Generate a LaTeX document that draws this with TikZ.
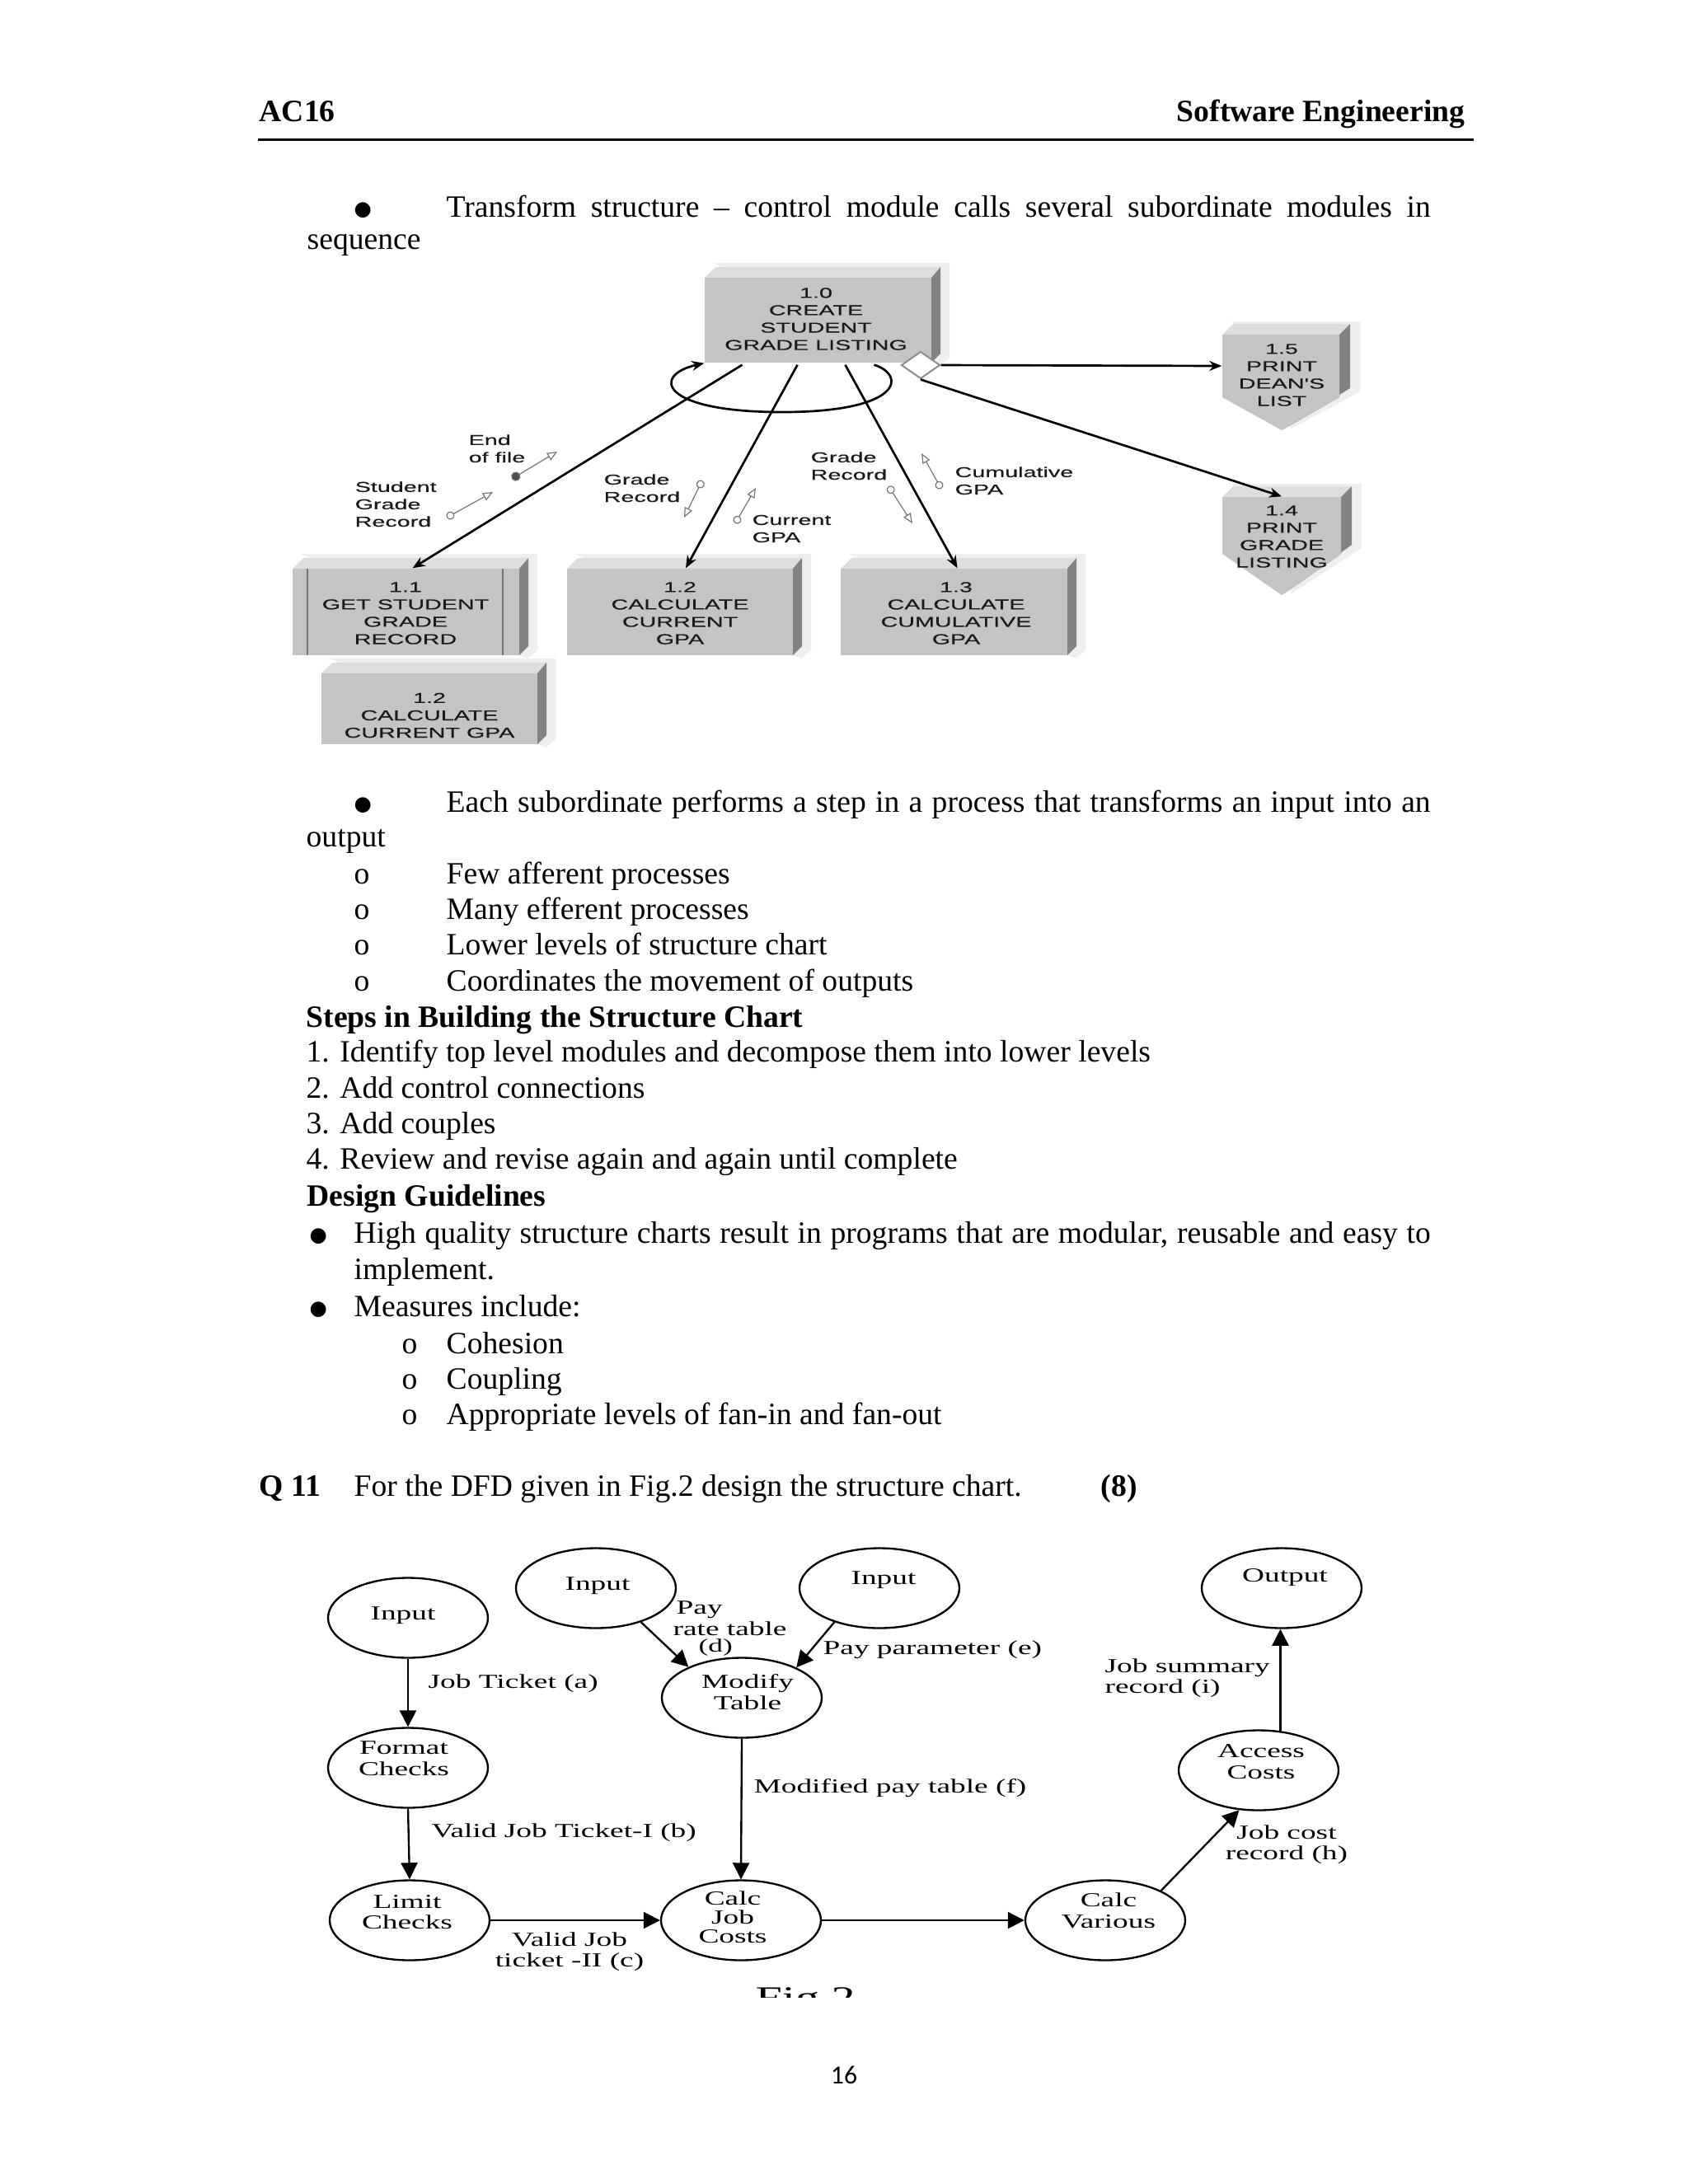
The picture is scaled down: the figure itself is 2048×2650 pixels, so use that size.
\documentclass[tikz,border=0pt]{standalone}
\usepackage{fontspec}
\setmainfont{Liberation Serif}
\newfontfamily\figfont{Liberation Sans}[FakeStretch=1.65,FakeBold=0.3]
\newfontfamily\dfdfont{Liberation Serif}[FakeStretch=1.55]
\newfontfamily\pnfont{Carlito}
\newfontfamily\symfont{DejaVu Sans}
\usetikzlibrary{arrows.meta,shapes.geometric}
\definecolor{frontc}{RGB}{196,196,196}
\definecolor{sidec}{RGB}{130,130,130}
\definecolor{topc}{RGB}{222,222,222}
\definecolor{halo}{RGB}{238,238,238}
\newcommand\bigbul{\raisebox{0.6pt}{\symfont\fontsize{7.3}{7.3}\selectfont ●}}
% 3D module box: #1 name, #2 x1, #3 y1, #4 x2, #5 y2
\newcommand\modbox[5]{%
  \fill[halo] (#2+10,#3-18) -- (#4+22,#3-18) -- (#4+22,#5-6) -- (#4+10,#5+4) -- cycle;
  \fill[topc] (#2,#3) -- (#2+13,#3-13) -- (#4+11,#3-13) -- (#4,#3) -- cycle;
  \fill[sidec] (#4,#3) -- (#4+11,#3-13) -- (#4+11,#5-11) -- (#4,#5) -- cycle;
  \node[fill=frontc, inner sep=0, minimum width={(#4-#2)*0.2989pt}, minimum height={(#5-#3)*0.2989pt}] (#1) at ({(#2+#4)/2},{(#3+#5)/2}) {};
}
\begin{document}
\begin{tikzpicture}[x=0.2989pt,y=-0.2989pt,
  body/.style={anchor=base west, inner sep=0, font=\fontsize{11.25}{12.85}\selectfont},
  bodyb/.style={anchor=base west, inner sep=0, font=\fontsize{11.25}{12.85}\selectfont\bfseries},
  ftxt/.style={inner sep=0, align=center, text=black!90, font=\figfont\fontsize{5.2}{6.3}\selectfont},
  flab/.style={inner sep=0, align=left, anchor=base west, text=black!90, font=\figfont\fontsize{5.2}{6.3}\selectfont},
  call/.style={line width=0.8pt, -{Stealth[length=4.5pt,width=3.6pt]}},
  couple/.style={line width=0.35pt, draw=black!55, {Circle[open,length=3pt,width=3pt]}-{Triangle[open,length=3.6pt,width=3pt]}},
  flag/.style={line width=0.35pt, draw=black!55, {Circle[length=3.4pt,width=3.4pt,fill=black!70]}-{Triangle[open,length=3.6pt,width=3pt]}},
  proc/.style={ellipse, draw, line width=0.7pt, minimum width=194*0.2989pt, minimum height=97*0.2989pt, inner sep=0},
  ptxt/.style={inner sep=0, align=center, font=\dfdfont\fontsize{7.2}{7.7}\selectfont},
  dfl/.style={line width=0.7pt, -{Triangle[length=6pt,width=6pt]}},
  dlab/.style={inner sep=0, anchor=west, align=left, font=\dfdfont\fontsize{7.2}{6.3}\selectfont},
  pshape/.style={inner sep=0, draw=none},
]
\useasboundingbox[fill=white] (0,0) rectangle (2048,2650);

% ---------- header ----------
\node[bodyb] (hdrL) at (314,147) {AC16};
\node[bodyb, anchor=base east] (hdrR) at (1778,147) {Software Engineering};
\draw[line width=0.9pt] (313,169) -- (1788,169);

% ---------- first bullet ----------
\node[body] (bul1) at (429,263) {\bigbul};
\node[body] (txt1) at (541,263) {\makebox[356.9pt][s]{Transform structure – control module calls several subordinate modules in}};
\node[body] (txt1b) at (372,302) {sequence};

% ---------- structure chart ----------
\modbox{b10}{855}{337}{1130}{440}
\node[ftxt] (t10) at (990,387) {1.0\\CREATE\\STUDENT\\GRADE LISTING};

\modbox{b11}{355}{690}{630}{795}
\draw[black!55, line width=0.5pt] (373,690) -- (373,795) (610,690) -- (610,795);
\node[ftxt] (t11) at (492,744) {1.1\\GET STUDENT\\GRADE\\RECORD};

\modbox{b12}{688}{690}{962}{795}
\node[ftxt] (t12) at (825,744) {1.2\\CALCULATE\\CURRENT\\GPA};

\modbox{b13}{1020}{690}{1295}{795}
\node[ftxt] (t13) at (1160,744) {1.3\\CALCULATE\\CUMULATIVE\\GPA};

\modbox{b12b}{390}{817}{652}{903}
\node[ftxt] (t12b) at (521,868) {1.2\\CALCULATE\\CURRENT GPA};

% pentagon (off-page) modules
\fill[halo] (1495,390) -- (1650,390) -- (1650,475) -- (1567,520) -- cycle;
\fill[topc] (1483,406) -- (1496,393) -- (1638,393) -- (1625,406) -- cycle;
\fill[sidec] (1625,406) -- (1638,393) -- (1638,471) -- (1557,521) -- (1625,482) -- cycle;
\fill[frontc] (1483,406) -- (1625,406) -- (1625,482) -- (1555,522) -- (1483,482) -- cycle;
\node[pshape, minimum width=142*0.2989pt, minimum height=76*0.2989pt] (p15) at (1554,444) {};
\node[ftxt] (t15) at (1555,455) {1.5\\PRINT\\DEAN'S\\LIST};

\fill[halo] (1495,587) -- (1652,587) -- (1652,665) -- (1567,720) -- cycle;
\fill[topc] (1483,603) -- (1496,590) -- (1640,590) -- (1627,603) -- cycle;
\fill[sidec] (1627,603) -- (1640,590) -- (1640,661) -- (1557,721) -- (1627,672) -- cycle;
\fill[frontc] (1483,603) -- (1627,603) -- (1627,672) -- (1555,722) -- (1483,672) -- cycle;
\node[pshape, minimum width=144*0.2989pt, minimum height=69*0.2989pt] (p14) at (1555,637.5) {};
\node[ftxt] (t14) at (1555,651) {1.4\\PRINT\\GRADE\\LISTING};

% loop (iteration) symbol
\draw[call] ([shift={(68,2)}]b10.south) .. controls (1100,455) and (1095,500) .. (949,500)
   .. controls (800,500) and (790,455) .. (b10.south west);

% transaction diamond
\node[diamond, draw=black!45, fill=white, line width=0.6pt, minimum width=47*0.2989pt, minimum height=33*0.2989pt, inner sep=0] (dia) at (1117,443) {};

% calls
\draw[call] ([shift={(-92,2)}]b10.south) -- ([shift={(8,0)}]b11.north);
\draw[call] ([shift={(-25,2)}]b10.south) -- ([shift={(7,0)}]b12.north);
\draw[call] ([shift={(33,2)}]b10.south) -- ([shift={(4,0)}]b13.north);
\draw[call] (dia.east) -- (p15.west);
\draw[call] (dia.south) -- (p14.north);

% couples
\coordinate (c1s) at (542,628); \coordinate (c1e) at (598,597);
\coordinate (c2s) at (621,581); \coordinate (c2e) at (676,548);
\coordinate (c3s) at (852,583); \coordinate (c3e) at (830,628);
\coordinate (c4s) at (892,635); \coordinate (c4e) at (917,592);
\coordinate (c5s) at (1078,590); \coordinate (c5e) at (1107,635);
\coordinate (c6s) at (1142,593); \coordinate (c6e) at (1118,550);
\draw[couple] (c1s) -- (c1e);
\draw[flag] (c2s) -- (c2e);
\draw[couple] (c3s) -- (c3e);
\draw[couple] (c4s) -- (c4e);
\draw[couple] (c5s) -- (c5e);
\draw[couple] (c6s) -- (c6e);

\node[flab] (lEnd) at (568,561) {End\\of file};
\node[flab] (lSGR) at (430,639) {Student\\Grade\\Record};
\node[flab] (lGR1) at (732,609) {Grade\\Record};
\node[flab] (lCur) at (912,658) {Current\\GPA};
\node[flab] (lGR2) at (983,582) {Grade\\Record};
\node[flab] (lCum) at (1158,600) {Cumulative\\GPA};

% ---------- second bullet block ----------
\node[body] (bul2) at (429,985) {\bigbul};
\node[body] (txt2) at (541,985) {\makebox[356.9pt][s]{Each subordinate performs a step in a process that transforms an input into an}};
\node[body] (txt2b) at (371,1027) {output};
\node[body] (o1) at (429,1072) {o};
\node[body] (s1) at (541,1072) {Few afferent processes};
\node[body] (o2) at (429,1115) {o};
\node[body] (s2) at (541,1115) {Many efferent processes};
\node[body] (o3) at (429,1158) {o};
\node[body] (s3) at (541,1158) {Lower levels of structure chart};
\node[body] (o4) at (429,1202) {o};
\node[body] (s4) at (541,1202) {Coordinates the movement of outputs};
\node[bodyb] (h1) at (371,1246) {Steps in Building the Structure Chart};
\node[body] (n1) at (371,1288) {1. Identify top level modules and decompose them into lower levels};
\node[body] (n2) at (371,1332) {2. Add control connections};
\node[body] (n3) at (371,1375) {3. Add couples};
\node[body] (n4) at (371,1418) {4. Review and revise again and again until complete};
\node[bodyb] (h2) at (372,1463) {Design Guidelines};
\node[body] (bul3) at (375,1508) {\bigbul};
\node[body] (g1) at (429,1508) {\makebox[390.4pt][s]{High quality structure charts result in programs that are modular, reusable and easy to}};
\node[body] (g1b) at (429,1552) {implement.};
\node[body] (bul4) at (375,1597) {\bigbul};
\node[body] (g2) at (429,1597) {Measures include:};
\node[body] (o5) at (487,1642) {o};
\node[body] (m1) at (541,1642) {Cohesion};
\node[body] (o6) at (487,1685) {o};
\node[body] (m2) at (541,1685) {Coupling};
\node[body] (o7) at (487,1728) {o};
\node[body] (m3) at (541,1728) {Appropriate levels of fan-in and fan-out};
\node[bodyb] (q11) at (314,1815) {Q 11};
\node[body] (q11t) at (429,1815) {For the DFD given in Fig.2 design the structure chart.};
\node[bodyb] (q11m) at (1335,1815) {(8)};

% ---------- DFD ----------
\node[proc] (InL) at (495,1963) {};
\node[proc] (InML) at (723,1927) {};
\node[proc] (InMR) at (1067,1927) {};
\node[proc] (Out) at (1555,1927) {};
\node[proc] (Mod) at (900,2060) {};
\node[proc] (Fmt) at (495,2145) {};
\node[proc] (Acc) at (1527,2148) {};
\node[proc] (Lim) at (497,2330) {};
\node[proc] (CJC) at (899,2330) {};
\node[proc] (CV) at (1341,2330) {};

\node[ptxt] (InLt) at (489,1960) {Input};
\node[ptxt] (InMLt) at (725,1924) {Input};
\node[ptxt] (InMRt) at (1072,1917) {Input};
\node[ptxt] (Outt) at (1559,1914) {Output};
\node[ptxt] (Modt) at (907,2053) {Modify\\Table};
\node[ptxt] (Fmtt) at (490,2134) {Format\\Checks};
\node[ptxt] (Acct) at (1530,2138) {Access\\Costs};
\node[ptxt] (Limt) at (494,2320) {Limit\\Checks};
\node[ptxt, font=\dfdfont\fontsize{7.2}{6.9}\selectfont] (CJCt) at (889,2326) {Calc\\Job\\Costs};
\node[ptxt] (CVt) at (1345,2318) {Calc\\Various};

\draw[dfl] (InL.south) -- (Fmt.north);
\draw[dfl] (Fmt.south) -- (Lim.north);
\draw[dfl] (Lim.east) -- (CJC.west);
\draw[dfl] (CJC.east) -- (CV.west);
\draw[dfl] (CV.28) -- (Acc.244);
\draw[dfl] (Acc.61) -- (Acc.61 |- Out.south);
\draw[dfl] (Mod.south) -- (CJC.north);
\draw[dfl] (InML.323) -- (Mod.150);
\draw[dfl] (InMR.217) -- (Mod.29);

\node[dlab] (la) at (519,2043) {Job Ticket (a)};
\node[dlab] (ld1) at (820,1953) {Pay};
\node[dlab] (ld2) at (816,1976) {rate table};
\node[dlab, font=\dfdfont\fontsize{6.8}{6}\selectfont] (ld3) at (847,1999) {(d)};
\node[dlab] (le) at (998,2002) {Pay parameter (e)};
\node[dlab] (li) at (1340,2036) {Job summary\\record (i)};
\node[dlab] (lf) at (914,2170) {Modified pay table (f)};
\node[dlab] (lb) at (523,2224) {Valid Job Ticket-I (b)};
\node[dlab, anchor=center, align=center, font=\dfdfont\fontsize{7.2}{7.5}\selectfont] (lh) at (1561,2238) {Job cost\\record (h)};
\node[dlab, anchor=center, align=center, font=\dfdfont\fontsize{7.2}{7.5}\selectfont] (lc) at (691,2368) {Valid Job\\ticket -II (c)};

\begin{scope}
\clip (850,2395) rectangle (1100,2423);
\node[inner sep=0, anchor=base west, font=\dfdfont\fontsize{11.2}{12}\selectfont] (fig2) at (916,2436) {Fig 2};
\end{scope}

% ---------- page number ----------
\node[inner sep=0, anchor=base, font=\pnfont\fontsize{9.5}{11}\selectfont] (pg) at (1024,2528) {16};
\end{tikzpicture}
\end{document}
